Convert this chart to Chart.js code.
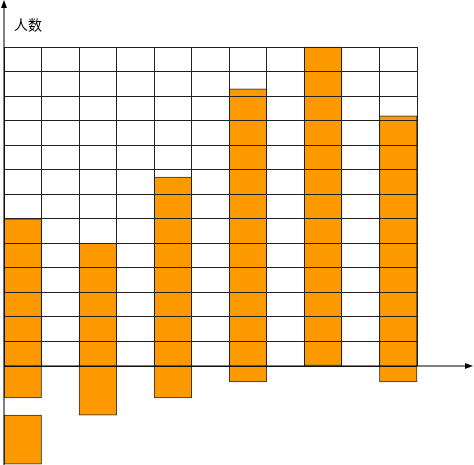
<!DOCTYPE html>
<html>
<head>
<meta charset="utf-8">
<script src="https://cdn.jsdelivr.net/npm/chart.js@4"></script>
<style>body{margin:0;background:#fff}</style>
</head>
<body>
<canvas id="c" width="474" height="465"></canvas>
<script>
// 11 grid columns, bars sit in every other one
const categories = ["1","2","3","4","5","6","7","8","9","10","11"];
const barLow  = [-1.3, null, -2, null, -1.3, null, -0.65, null, 0, null, -0.65];
const barHigh = [6, null, 5, null, 7.7, null, 11.3, null, 13, null, 10.2];
const extraLow  = [-4, null, null, null, null, null, null, null, null, null, null];
const extraHigh = [-2, null, null, null, null, null, null, null, null, null, null];
const yLabel = "人数";

const toRanges = (lo, hi) => lo.map((v, i) => v === null ? null : [v, hi[i]]);

const axesPlugin = {
  id: "axes",
  afterDraw(chart) {
    const ctx = chart.ctx, a = chart.chartArea;
    const y0 = chart.scales.y.getPixelForValue(0);
    ctx.save();
    ctx.strokeStyle = "#000"; ctx.fillStyle = "#000"; ctx.lineWidth = 1;
    ctx.beginPath();
    ctx.moveTo(a.left, 465); ctx.lineTo(a.left, 2);
    ctx.moveTo(a.left, y0); ctx.lineTo(470, y0);
    ctx.stroke();
    ctx.beginPath();
    ctx.moveTo(a.left, 0); ctx.lineTo(a.left - 3, 8); ctx.lineTo(a.left + 3, 8); ctx.fill();
    ctx.beginPath();
    ctx.moveTo(473, y0); ctx.lineTo(465, y0 - 3); ctx.lineTo(465, y0 + 3); ctx.fill();
    ctx.font = "14px 'Noto Sans CJK SC'";
    ctx.fillText(yLabel, 14, 30);
    ctx.restore();
  }
};

new Chart(document.getElementById("c"), {
  type: "bar",
  data: {
    labels: categories,
    datasets: [
      { data: toRanges(barLow, barHigh), backgroundColor: "#ff9900", borderColor: "#333",
        borderWidth: 1, borderSkipped: false, grouped: false, clip: false,
        barPercentage: 1, categoryPercentage: 1 },
      { data: toRanges(extraLow, extraHigh), backgroundColor: "#ff9900", borderColor: "#333",
        borderWidth: 1, borderSkipped: false, grouped: false, clip: false,
        barPercentage: 1, categoryPercentage: 1 }
    ]
  },
  options: {
    responsive: false,
    animation: false,
    layout: { padding: { left: 4, right: 57, top: 47, bottom: 99 } },
    plugins: { legend: { display: false }, tooltip: { enabled: false } },
    scales: {
      x: { ticks: { display: false }, border: { display: false },
           grid: { color: "#222", z: 1, drawTicks: false } },
      y: { min: 0, max: 13, ticks: { display: false, stepSize: 1 }, border: { display: false },
           grid: { color: "#222", z: 1, drawTicks: false } }
    }
  },
  plugins: [axesPlugin]
});
</script>
</body>
</html>
